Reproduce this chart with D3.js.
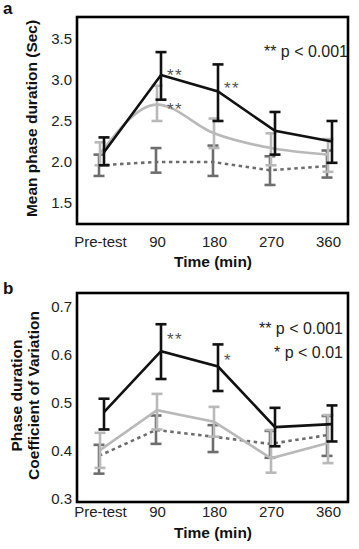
<!DOCTYPE html>
<html>
<head>
<meta charset="utf-8">
<script src="https://cdnjs.cloudflare.com/ajax/libs/d3/7.8.5/d3.min.js"></script>
<style>
  html, body { margin: 0; padding: 0; background: #fff; }
  svg { display: block; font-family: "Liberation Sans", Arial, sans-serif; }
</style>
</head>
<body>
<svg id="chart" width="359" height="549"></svg>
<script>
// ---------- DATA ----------
const categories = ["Pre-test", "90", "180", "270", "360"];

// Panel a: Mean phase duration (Sec)
const aTicks = [1.5, 2.0, 2.5, 3.0, 3.5];
const aBlack     = [2.12, 3.06, 2.86, 2.38, 2.25];
const aBlackLo   = [1.96, 2.76, 2.50, 2.09, 1.99];
const aBlackHi   = [2.30, 3.34, 3.19, 2.61, 2.50];
const aLight     = [2.10, 2.70, 2.35, 2.17, 2.09];
const aLightLo   = [1.96, 2.50, 2.17, 1.96, 1.88];
const aLightHi   = [2.24, 2.93, 2.53, 2.35, 2.28];
const aDark      = [1.96, 2.00, 2.00, 1.90, 1.95];
const aDarkLo    = [1.83, 1.87, 1.83, 1.72, 1.81];
const aDarkHi    = [2.09, 2.17, 2.20, 2.07, 2.14];

// Panel b: Phase duration Coefficient of Variation
const bTicks = [0.3, 0.4, 0.5, 0.6, 0.7];
const bBlack     = [0.481, 0.608, 0.576, 0.450, 0.456];
const bBlackLo   = [0.445, 0.550, 0.525, 0.410, 0.420];
const bBlackHi   = [0.509, 0.664, 0.622, 0.490, 0.495];
const bLight     = [0.402, 0.485, 0.461, 0.385, 0.417];
const bLightLo   = [0.365, 0.445, 0.430, 0.355, 0.375];
const bLightHi   = [0.438, 0.519, 0.492, 0.444, 0.475];
const bDark      = [0.390, 0.444, 0.430, 0.415, 0.433];
const bDarkLo    = [0.353, 0.415, 0.398, 0.386, 0.390];
const bDarkHi    = [0.413, 0.474, 0.454, 0.442, 0.473];

// significance markers: [category, value anchor, text]
const aMarks = [["90", 3.10, "**"], ["90", 2.68, "**"], ["180", 2.94, "**"]];
const bMarks = [["90", 0.640, "**"], ["180", 0.596, "*"]];
const aLegend = ["** p < 0.001"];
const bLegend = ["** p < 0.001", "* p < 0.01"];

// ---------- DRAW ----------
const svg = d3.select("#chart");
const BLACK = "#111111", LIGHT = "#b9b9b9", DARK = "#6d6d6d";

function panel(opts) {
  const { top, bottom, left, right, domain, ticks, series, marks, legend,
          titleLines, letter, letterY, xPad, xTitleY, legendX, legendY } = opts;
  const g = svg.append("g");
  const x = d3.scalePoint().domain(categories).range([100, 328]);
  const y = d3.scaleLinear().domain(domain).range([bottom, top]);

  // y axis tick labels
  const ya = g.append("g").attr("transform", `translate(${left},0)`)
    .call(d3.axisLeft(y).tickValues(ticks).tickFormat(d3.format(".1f")).tickSize(0).tickPadding(5));
  ya.select(".domain").remove();
  ya.selectAll("text").attr("font-size", 15).attr("fill", "#222")
    .attr("font-family", "Liberation Sans, Arial, sans-serif");

  // x axis tick labels
  const xa = g.append("g").attr("transform", `translate(0,${bottom})`)
    .call(d3.axisBottom(x).tickSize(0).tickPadding(xPad));
  xa.select(".domain").remove();
  xa.selectAll("text").attr("font-size", 15).attr("fill", "#222")
    .attr("font-family", "Liberation Sans, Arial, sans-serif");

  // series: lines then error bars
  series.forEach(s => {
    const pts = categories.map((c, i) => ({ c, v: s.v[i], lo: s.lo[i], hi: s.hi[i] }));
    const line = d3.line().x(d => x(d.c) + s.dx).y(d => y(d.v)).curve(s.curve || d3.curveLinear);
    g.append("path").datum(pts).attr("d", line).attr("fill", "none")
      .attr("stroke", s.color).attr("stroke-width", 2.6)
      .attr("stroke-dasharray", s.dash || null);
    const eb = g.append("g").selectAll("g").data(pts).join("g")
      .attr("stroke", s.color).attr("stroke-width", 2.6);
    eb.append("line").attr("x1", d => x(d.c) + s.dx).attr("x2", d => x(d.c) + s.dx)
      .attr("y1", d => y(d.lo)).attr("y2", d => y(d.hi));
    eb.append("line").attr("x1", d => x(d.c) + s.dx - 5.5).attr("x2", d => x(d.c) + s.dx + 5.5)
      .attr("y1", d => y(d.hi)).attr("y2", d => y(d.hi));
    eb.append("line").attr("x1", d => x(d.c) + s.dx - 5.5).attr("x2", d => x(d.c) + s.dx + 5.5)
      .attr("y1", d => y(d.lo)).attr("y2", d => y(d.lo));
  });

  // significance markers
  g.selectAll(".mk").data(marks).join("text")
    .attr("x", d => x(d[0]) + 10).attr("y", d => y(d[1]) + 9)
    .attr("font-size", 17).attr("fill", "#555").attr("letter-spacing", 1.5)
    .text(d => d[2]);

  // legend text
  g.selectAll(".lg").data(legend).join("text")
    .attr("x", legendX).attr("y", (d, i) => legendY + i * 24)
    .attr("text-anchor", "end").attr("font-size", 16).attr("fill", "#222")
    .text(d => d);

  // frame
  g.append("rect").attr("x", left).attr("y", top)
    .attr("width", right - left).attr("height", bottom - top)
    .attr("fill", "none").attr("stroke", "#000").attr("stroke-width", 2.6);

  // y title
  const cy = (top + bottom) / 2;
  titleLines.forEach((t, i) => {
    g.append("text")
      .attr("transform", `translate(${t.x},${cy - 2}) rotate(-90)`)
      .attr("text-anchor", "middle").attr("font-size", 15.5).attr("font-weight", "bold")
      .attr("fill", "#111").text(t.text);
  });

  // x title
  g.append("text").attr("x", 213).attr("y", xTitleY).attr("text-anchor", "middle")
    .attr("font-size", 15.5).attr("font-weight", "bold").attr("fill", "#111").text("Time (min)");

  // panel letter
  g.append("text").attr("x", 3).attr("y", letterY).attr("font-size", 17)
    .attr("font-weight", "bold").attr("fill", "#111").text(letter);
}

panel({
  top: 17, bottom: 224, left: 77, right: 348,
  domain: [1.244, 3.768], ticks: aTicks,
  series: [
    { v: aDark, lo: aDarkLo, hi: aDarkHi, color: DARK, dx: -1, dash: "3.5,3.5" },
    { v: aLight, lo: aLightLo, hi: aLightHi, color: LIGHT, dx: 0, curve: d3.curveMonotoneX },
    { v: aBlack, lo: aBlackLo, hi: aBlackHi, color: BLACK, dx: 4 }
  ],
  marks: aMarks, legend: aLegend,
  titleLines: [{ x: 37, text: "Mean phase duration (Sec)" }],
  letter: "a", letterY: 14, xPad: 12, xTitleY: 267,
  legendX: 348, legendY: 57
});

panel({
  top: 293, bottom: 502, left: 77, right: 348,
  domain: [0.294, 0.729], ticks: bTicks,
  series: [
    { v: bDark, lo: bDarkLo, hi: bDarkHi, color: DARK, dx: -1, dash: "3.5,3.5" },
    { v: bLight, lo: bLightLo, hi: bLightHi, color: LIGHT, dx: 0 },
    { v: bBlack, lo: bBlackLo, hi: bBlackHi, color: BLACK, dx: 4 }
  ],
  marks: bMarks, legend: bLegend,
  titleLines: [{ x: 22, text: "Phase duration" }, { x: 39, text: "Coefficient of Variation" }],
  letter: "b", letterY: 294, xPad: 4, xTitleY: 538,
  legendX: 343, legendY: 334
});
</script>
</body>
</html>
